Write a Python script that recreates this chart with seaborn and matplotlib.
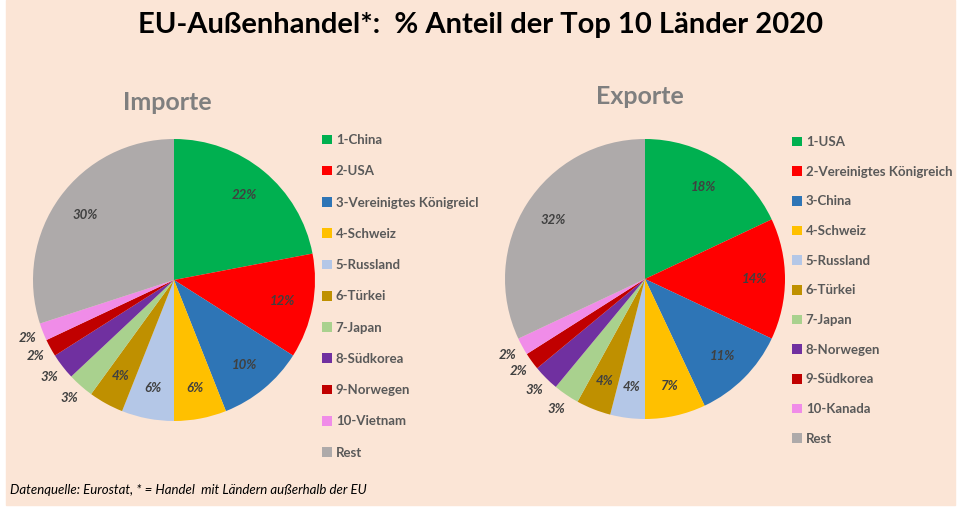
import matplotlib
matplotlib.use("Agg")
from matplotlib import pyplot as plt
from matplotlib.patches import Rectangle
import seaborn as sns
import numpy as np

# data
imp_labels = ["1-China", "2-USA", "3-Vereinigtes Königreicl", "4-Schweiz",
              "5-Russland", "6-Türkei", "7-Japan", "8-Südkorea",
              "9-Norwegen", "10-Vietnam", "Rest"]
imp_values = [22, 12, 10, 6, 6, 4, 3, 3, 2, 2, 30]

exp_labels = ["1-USA", "2-Vereinigtes Königreich", "3-China", "4-Schweiz",
              "5-Russland", "6-Türkei", "7-Japan", "8-Norwegen",
              "9-Südkorea", "10-Kanada", "Rest"]
exp_values = [18, 14, 11, 7, 4, 4, 3, 3, 2, 2, 32]

colors = ["#00B050", "#FF0000", "#2E75B6", "#FFC000", "#B4C7E7", "#BF9000",
          "#A9D18E", "#7030A0", "#C00000", "#F08CE8", "#AEAAAA"]

sns.set_theme(style="white")
plt.rcParams["font.family"] = ["Lato", "DejaVu Sans"]

W, H = 960, 509
fig = plt.figure(figsize=(W / 100, H / 100), dpi=100)
fig.patch.set_facecolor("white")
bg = "#FBE5D6"
fig.patches.append(Rectangle((6 / W, 4 / H), 949 / W, 1 - 4 / H,
                             transform=fig.transFigure, color=bg, zorder=-10))

LIM = 1.3


def draw_pie(cx, cy, r, values, labels, subtitle, sx, sy, lx, ly, spacing):
    size = 2 * LIM * r
    ax = fig.add_axes([(cx - size / 2) / W, (H - cy - size / 2) / H,
                       size / W, size / H])
    wedges, _ = ax.pie(values, colors=colors, startangle=90, counterclock=False,
                       wedgeprops=dict(linewidth=0))
    ax.set_xlim(-LIM, LIM)
    ax.set_ylim(-LIM, LIM)
    ax.set_aspect("equal")
    ax.axis("off")
    # percent labels, small slices outside
    for w, v in zip(wedges, values):
        ang = np.deg2rad((w.theta1 + w.theta2) / 2)
        d = 0.78 if v >= 4 else 1.12
        ax.text(d * np.cos(ang), d * np.sin(ang), f"{v}%", ha="center",
                va="center", fontsize=9.5, style="italic", fontweight="bold",
                color="#404040")
    fig.text(sx / W, 1 - sy / H, subtitle, ha="center", va="center",
             fontsize=18, fontweight="bold", color="#7F7F7F")
    leg = fig.legend(wedges, labels, loc="upper left",
                     bbox_to_anchor=(lx / W, 1 - ly / H), frameon=False,
                     handlelength=0.75, handleheight=0.75, handletextpad=0.3,
                     labelspacing=spacing, borderaxespad=0, borderpad=0,
                     prop=dict(size=9.5, weight="bold"))
    for t in leg.get_texts():
        t.set_color("#595959")
    return ax


draw_pie(174, 280, 141, imp_values, imp_labels, "Importe", 167, 103,
         322, 134, 1.46)
draw_pie(645, 279, 140, exp_values, exp_labels, "Exporte", 640, 97,
         792, 136, 1.34)

fig.text(480 / W, 1 - 25 / H, "EU-Außenhandel*:  % Anteil der Top 10 Länder 2020",
         ha="center", va="center", fontsize=21, fontweight="bold", color="black")
fig.text(10 / W, 1 - 490 / H,
         "Datenquelle: Eurostat, * = Handel  mit Ländern außerhalb der EU",
         ha="left", va="center", fontsize=9.5, style="italic", color="black")

fig.savefig("out.png", dpi=100, facecolor=fig.get_facecolor())
